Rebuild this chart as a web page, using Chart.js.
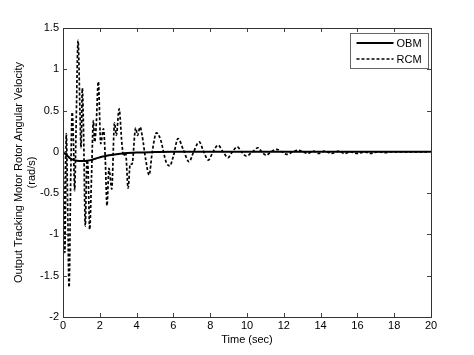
<!DOCTYPE html>
<html><head><meta charset="utf-8">
<script src="https://cdn.jsdelivr.net/npm/chart.js@4/dist/chart.umd.min.js"></script>
<style>html,body{margin:0;padding:0;background:#fff}canvas{display:block}</style>
</head><body>
<canvas id="c" width="474" height="355"></canvas>
<script>
const rcmTime = [0,0.05,0.1,0.18,0.25,0.33,0.42,0.5,0.57,0.63,0.72,0.82,0.92,0.98,1.05,1.13,1.21,1.3,1.36,1.45,1.55,1.65,1.72,1.8,1.92,2.05,2.2,2.3,2.39,2.5,2.65,2.8,2.9,3.05,3.2,3.3,3.4,3.54,3.65,3.75,3.95,4.05,4.19,4.3,4.5,4.68,4.85,5.08,5.3,5.6,5.8,6.0,6.25,6.55,6.85,7.1,7.4,7.65,7.9,8.15,8.43,8.7,8.97,9.2,9.47,9.7,9.97,10.3,10.6,10.8,11.05,11.3,11.6,11.9,12.15,12.5,12.8,13.05,13.3,13.6,13.9,14.2,14.6,15.0,15.3,15.6,16.0,16.4,16.7,17.1,17.5,17.8,18.2,20];
const rcmValues = [0.25,-0.5,-1.22,0.22,-0.6,-1.64,-0.3,0.48,0.1,-0.47,0.4,1.35,0.5,0.05,0.77,0.1,-0.9,-0.1,-0.2,-0.94,-0.3,0.38,0.12,0.3,0.85,0.1,0.28,-0.1,-0.65,-0.2,-0.45,0.35,0.2,0.52,0.1,-0.05,0.0,-0.44,-0.15,-0.15,0.29,0.2,0.3,0.2,-0.1,-0.28,0.0,0.23,0.15,-0.12,-0.17,-0.05,0.16,0.02,-0.12,0.0,0.12,0.0,-0.1,0.0,0.08,0.0,-0.07,0.0,0.06,0.0,-0.05,0.0,0.05,0.0,-0.04,0.0,0.03,0.0,-0.03,0.0,0.02,0.0,-0.02,0.01,-0.02,0.01,-0.02,0.01,-0.02,0.0,-0.02,0.0,-0.02,0.0,-0.01,0.0,0.0,0.0];
const obmTime = [0,0.2,0.4,0.6,0.9,1.2,1.5,1.8,2.1,2.5,3.0,3.5,4.0,5.0,6.0,20];
const obmValues = [0,-0.04,-0.08,-0.1,-0.11,-0.11,-0.1,-0.08,-0.06,-0.04,-0.025,-0.015,-0.008,-0.003,0,0];
const seriesLabels = ['OBM','RCM'];
const xTitle = 'Time (sec)';
const yTitle = ['Output Tracking Motor Rotor Angular Velocity','(rad/s)'];

const FONT = 'Liberation Sans, Arial, sans-serif';
const toXY = (t, v) => t.map((x, i) => ({x, y: v[i]}));

const boxTicks = {
  id: 'boxTicks',
  afterDatasetsDraw(chart) {
    const {ctx, chartArea: a, scales: {x, y}} = chart;
    ctx.save();
    ctx.strokeStyle = '#444';
    ctx.lineWidth = 1;
    const L = 4;
    ctx.beginPath();
    for (let v = 0; v <= 20; v += 2) {
      const px = Math.round(x.getPixelForValue(v)) + 0.5;
      ctx.moveTo(px, a.bottom); ctx.lineTo(px, a.bottom - L);
      ctx.moveTo(px, a.top); ctx.lineTo(px, a.top + L);
    }
    for (let v = -2; v <= 1.5; v += 0.5) {
      const py = Math.round(y.getPixelForValue(v)) + 0.5;
      ctx.moveTo(a.left, py); ctx.lineTo(a.left + L, py);
      ctx.moveTo(a.right, py); ctx.lineTo(a.right - L, py);
    }
    ctx.stroke();
    ctx.strokeStyle = '#333';
    ctx.strokeRect(Math.round(a.left) + 0.5, Math.round(a.top) + 0.5, Math.round(a.right - a.left), Math.round(a.bottom - a.top));
    // legend box
    const bx = 350.5, by = 33.5, bw = 78, bh = 35;
    ctx.fillStyle = '#fff';
    ctx.fillRect(bx, by, bw, bh);
    ctx.strokeStyle = '#666';
    ctx.strokeRect(bx, by, bw, bh);
    const ds = chart.data.datasets;
    ds.forEach((d, i) => {
      const ly = by + 9.5 + i * 16;
      ctx.beginPath();
      ctx.strokeStyle = '#000';
      ctx.lineWidth = d.borderWidth;
      ctx.setLineDash(d.borderDash || []);
      ctx.moveTo(bx + 6, ly); ctx.lineTo(bx + 43, ly);
      ctx.stroke();
      ctx.setLineDash([]);
      ctx.fillStyle = '#000';
      ctx.font = '11px ' + FONT;
      ctx.textBaseline = 'middle';
      ctx.textAlign = 'left';
      ctx.fillText(d.label, bx + 46, ly + 1);
    });
    ctx.restore();
  }
};

new Chart(document.getElementById('c'), {
  type: 'line',
  data: {
    datasets: [
      {label: seriesLabels[0], data: toXY(obmTime, obmValues), borderColor: '#000', borderWidth: 2, pointRadius: 0, cubicInterpolationMode: 'monotone', fill: false},
      {label: seriesLabels[1], data: toXY(rcmTime, rcmValues), borderColor: '#000', borderWidth: 1.7, borderDash: [3, 2], pointRadius: 0, cubicInterpolationMode: 'monotone', fill: false}
    ]
  },
  options: {
    responsive: false,
    animation: false,
    layout: {padding: {top: 28, right: 43, left: 12, bottom: 8}},
    plugins: {legend: {display: false}, tooltip: {enabled: false}},
    scales: {
      x: {
        type: 'linear', min: 0, max: 20,
        ticks: {stepSize: 2, color: '#000', font: {family: FONT, size: 11}, padding: 2, maxRotation: 0},
        grid: {display: false, drawTicks: false},
        border: {display: false},
        title: {display: true, text: xTitle, color: '#000', font: {family: FONT, size: 11}, padding: {top: 0, bottom: 0}},
        afterFit(s) { s.height = 30; }
      },
      y: {
        type: 'linear', min: -2, max: 1.5,
        ticks: {stepSize: 0.5, color: '#000', font: {family: FONT, size: 11}, padding: 4, callback: v => String(v)},
        grid: {display: false, drawTicks: false},
        border: {display: false},
        title: {display: true, text: yTitle, color: '#000', font: {family: FONT, size: 11, lineHeight: 1.2}, padding: {top: 0, bottom: 2}},
        afterFit(s) { s.width = 51; }
      }
    }
  },
  plugins: [boxTicks]
});
</script>
</body></html>
